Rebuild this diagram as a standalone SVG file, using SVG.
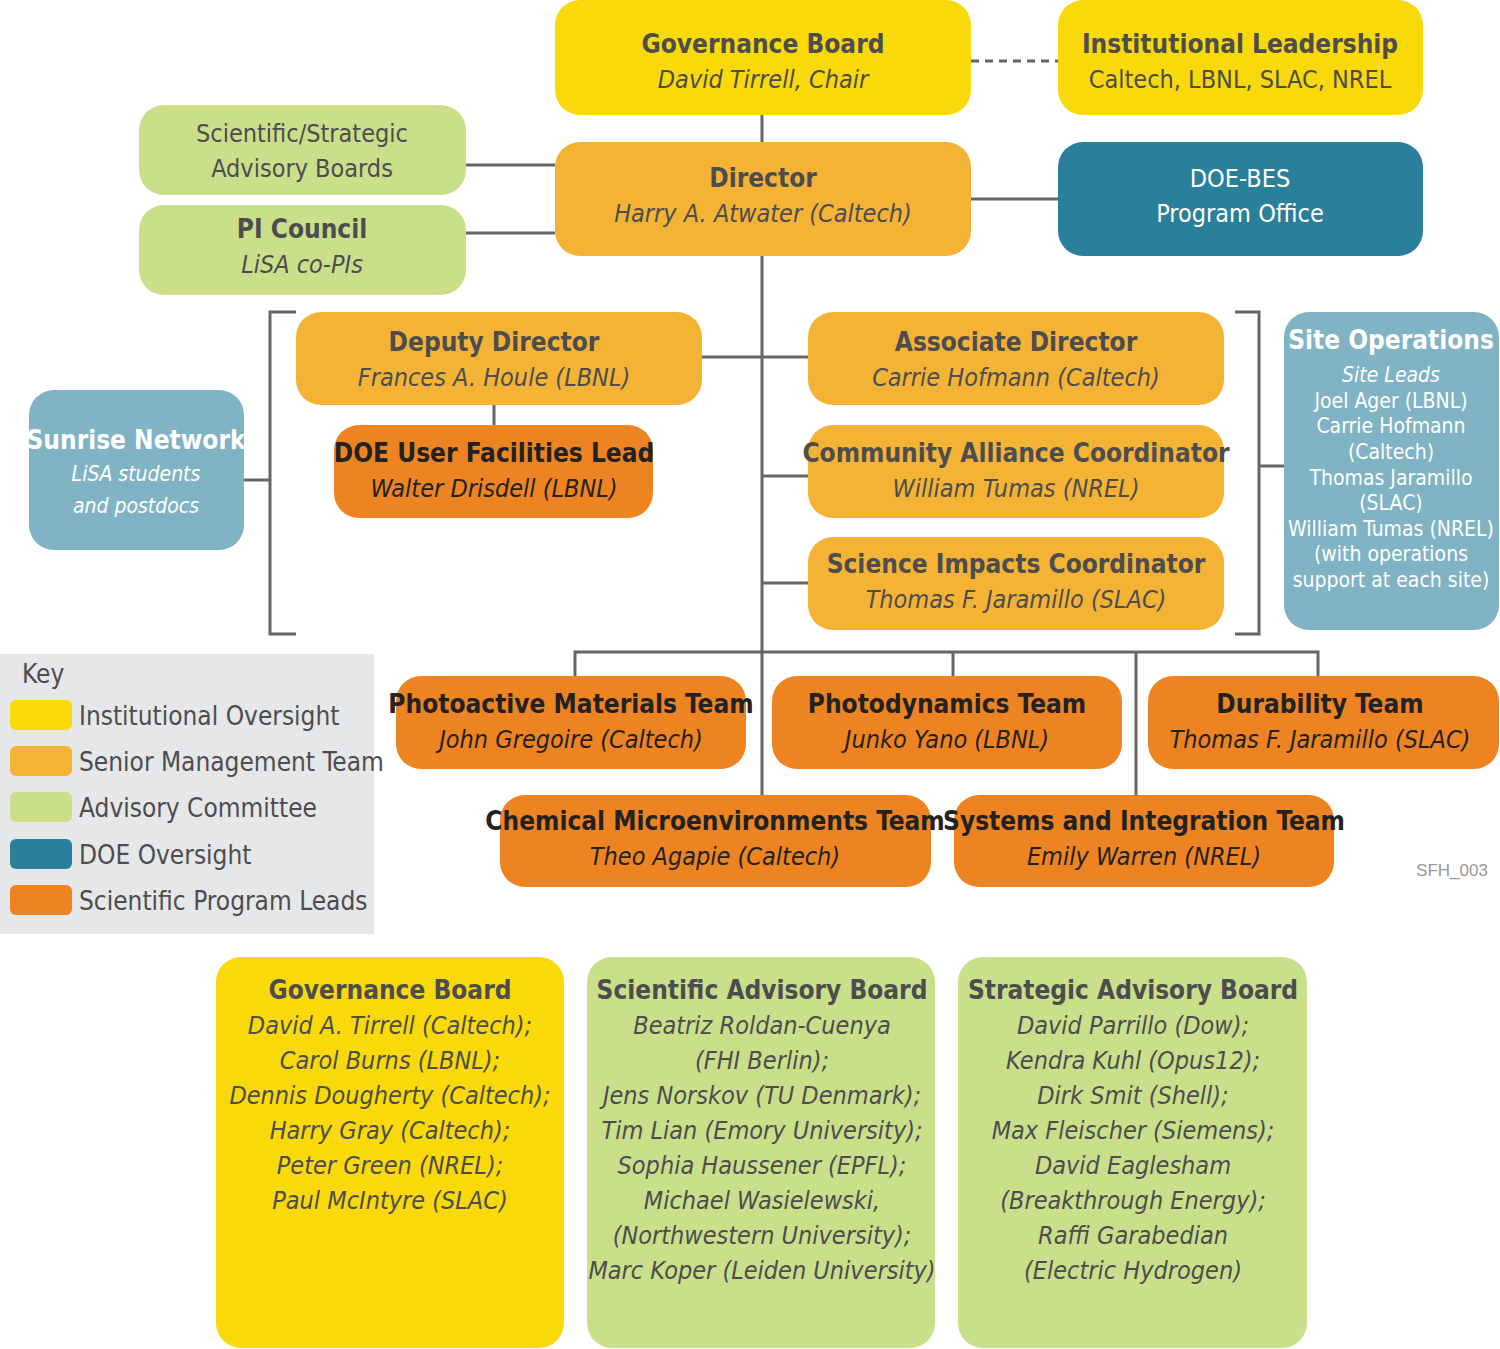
<svg xmlns="http://www.w3.org/2000/svg" width="1500" height="1349" viewBox="0 0 1500 1349">
<style>
text{font-family:"DejaVu Sans Condensed","Liberation Sans Narrow","Liberation Sans",sans-serif;fill:#4d4d4f;text-anchor:middle;font-size:25px}
.b{font-weight:bold;font-size:26px}
.i{font-style:italic}
.w{fill:#fff}
.s{font-size:21px}
.yl{fill:#f9d90a}.or{fill:#f5b335}.gr{fill:#c9df8a}.tl{fill:#2a7f9a}.do{fill:#ee8322}.lb{fill:#80b3c4}
.ln{stroke:#666;stroke-width:3;fill:none}
.k{text-anchor:start;font-size:26px}
</style>
<g id="connectors" class="ln">
<path d="M971,61H1058" stroke-dasharray="8,6"/>
<path d="M466,165H555M466,233H555M971,199H1058M762,115V142M762,256V795M702,357H808M494,405V425M762,476H808M762,583H808"/>
<path d="M296,312H270V634H296M244,480H270M1235,312H1259V634H1235M1259,466H1284"/>
<path d="M575,676V652H1318V676M953,652V676M1136,652V795"/>
</g>
<g id="gov"><rect class="yl" x="555" y="0" width="416" height="115" rx="25"/><text class="b" x="763" y="53">Governance Board</text><text class="i" x="763" y="88">David Tirrell, Chair</text></g>
<g id="inst"><rect class="yl" x="1058" y="0" width="365" height="115" rx="25"/><text class="b" x="1240" y="53">Institutional Leadership</text><text x="1240" y="88">Caltech, LBNL, SLAC, NREL</text></g>
<g id="ssab"><rect class="gr" x="139" y="105" width="327" height="90" rx="25"/><text x="302" y="142">Scientific/Strategic</text><text x="302" y="177">Advisory Boards</text></g>
<g id="pic"><rect class="gr" x="139" y="205" width="327" height="90" rx="25"/><text class="b" x="302" y="238">PI Council</text><text class="i" x="302" y="273">LiSA co-PIs</text></g>
<g id="dir"><rect class="or" x="555" y="142" width="416" height="114" rx="25"/><text class="b" x="763" y="187">Director</text><text class="i" x="763" y="222">Harry A. Atwater (Caltech)</text></g>
<g id="doe"><rect class="tl" x="1058" y="142" width="365" height="114" rx="25"/><text class="w" x="1240" y="187">DOE-BES</text><text class="w" x="1240" y="222">Program Office</text></g>
<g id="dep"><rect class="or" x="296" y="312" width="406" height="93" rx="25"/><text class="b" x="494" y="351">Deputy Director</text><text class="i" x="494" y="386">Frances A. Houle (LBNL)</text></g>
<g id="ufl"><rect class="do" x="334" y="425" width="319" height="93" rx="25"/><text class="b" x="494" y="462" fill="#222" style="fill:#222">DOE User Facilities Lead</text><text class="i" x="494" y="497" style="fill:#222">Walter Drisdell (LBNL)</text></g>
<g id="assoc"><rect class="or" x="808" y="312" width="416" height="93" rx="25"/><text class="b" x="1016" y="351">Associate Director</text><text class="i" x="1016" y="386">Carrie Hofmann (Caltech)</text></g>
<g id="cac"><rect class="or" x="808" y="425" width="416" height="93" rx="25"/><text class="b" x="1016" y="462">Community Alliance Coordinator</text><text class="i" x="1016" y="497">William Tumas (NREL)</text></g>
<g id="sic"><rect class="or" x="808" y="537" width="416" height="93" rx="25"/><text class="b" x="1016" y="573">Science Impacts Coordinator</text><text class="i" x="1016" y="608">Thomas F. Jaramillo (SLAC)</text></g>
<g id="sun"><rect class="lb" x="29" y="390" width="215" height="160" rx="25"/><text class="b w" x="136" y="449">Sunrise Network</text><text class="i w s" x="136" y="481">LiSA students</text><text class="i w s" x="136" y="513">and postdocs</text></g>
<g id="site"><rect class="lb" x="1284" y="312" width="215" height="318" rx="25"/><text class="b w" x="1391" y="349">Site Operations</text>
<text class="i w s" x="1391" y="382">Site Leads</text><text class="w s" x="1391" y="408">Joel Ager (LBNL)</text><text class="w s" x="1391" y="433">Carrie Hofmann</text><text class="w s" x="1391" y="459">(Caltech)</text><text class="w s" x="1391" y="485">Thomas Jaramillo</text><text class="w s" x="1391" y="510">(SLAC)</text><text class="w s" x="1391" y="536">William Tumas (NREL)</text><text class="w s" x="1391" y="561">(with operations</text><text class="w s" x="1391" y="587">support at each site)</text></g>
<g id="pam"><rect class="do" x="396" y="676" width="350" height="93" rx="25"/><text class="b" x="571" y="713" style="fill:#222">Photoactive Materials Team</text><text class="i" x="571" y="748" style="fill:#222">John Gregoire (Caltech)</text></g>
<g id="pdt"><rect class="do" x="772" y="676" width="350" height="93" rx="25"/><text class="b" x="947" y="713" style="fill:#222">Photodynamics Team</text><text class="i" x="947" y="748" style="fill:#222">Junko Yano (LBNL)</text></g>
<g id="dur"><rect class="do" x="1148" y="676" width="351" height="93" rx="25"/><text class="b" x="1320" y="713" style="fill:#222">Durability Team</text><text class="i" x="1320" y="748" style="fill:#222">Thomas F. Jaramillo (SLAC)</text></g>
<g id="cmt"><rect class="do" x="500" y="795" width="431" height="92" rx="25"/><text class="b" x="715" y="830" style="fill:#222">Chemical Microenvironments Team</text><text class="i" x="715" y="865" style="fill:#222">Theo Agapie (Caltech)</text></g>
<g id="sit"><rect class="do" x="954" y="795" width="380" height="92" rx="25"/><text class="b" x="1144" y="830" style="fill:#222">Systems and Integration Team</text><text class="i" x="1144" y="865" style="fill:#222">Emily Warren (NREL)</text></g>
<text x="1452" y="876" style="font-family:'Liberation Sans',sans-serif;font-size:17px;fill:#999">SFH_003</text>
<g id="key"><rect x="0" y="654" width="374" height="280" fill="#e6e7e8"/><text class="k" x="22" y="683">Key</text>
<rect class="yl" x="10" y="700" width="62" height="30" rx="6"/><text class="k" x="79" y="725">Institutional Oversight</text>
<rect class="or" x="10" y="746" width="62" height="30" rx="6"/><text class="k" x="79" y="771">Senior Management Team</text>
<rect class="gr" x="10" y="792" width="62" height="30" rx="6"/><text class="k" x="79" y="817">Advisory Committee</text>
<rect class="tl" x="10" y="839" width="62" height="30" rx="6"/><text class="k" x="79" y="864">DOE Oversight</text>
<rect class="do" x="10" y="885" width="62" height="30" rx="6"/><text class="k" x="79" y="910">Scientific Program Leads</text></g>
<g id="govlist"><rect class="yl" x="216" y="957" width="348" height="391" rx="25"/><text class="b" x="390" y="999">Governance Board</text>
<text class="i" x="390" y="1034">David A. Tirrell (Caltech);</text><text class="i" x="390" y="1069">Carol Burns (LBNL);</text><text class="i" x="390" y="1104">Dennis Dougherty (Caltech);</text><text class="i" x="390" y="1139">Harry Gray (Caltech);</text><text class="i" x="390" y="1174">Peter Green (NREL);</text><text class="i" x="390" y="1209">Paul McIntyre (SLAC)</text></g>
<g id="sablist"><rect class="gr" x="587" y="957" width="348" height="391" rx="25"/><text class="b" x="762" y="999">Scientific Advisory Board</text>
<text class="i" x="762" y="1034">Beatriz Roldan-Cuenya</text><text class="i" x="762" y="1069">(FHI Berlin);</text><text class="i" x="762" y="1104">Jens Norskov (TU Denmark);</text><text class="i" x="762" y="1139">Tim Lian (Emory University);</text><text class="i" x="762" y="1174">Sophia Haussener (EPFL);</text><text class="i" x="762" y="1209">Michael Wasielewski,</text><text class="i" x="762" y="1244">(Northwestern University);</text><text class="i" x="762" y="1279">Marc Koper (Leiden University)</text></g>
<g id="stablist"><rect class="gr" x="958" y="957" width="349" height="391" rx="25"/><text class="b" x="1133" y="999">Strategic Advisory Board</text>
<text class="i" x="1133" y="1034">David Parrillo (Dow);</text><text class="i" x="1133" y="1069">Kendra Kuhl (Opus12);</text><text class="i" x="1133" y="1104">Dirk Smit (Shell);</text><text class="i" x="1133" y="1139">Max Fleischer (Siemens);</text><text class="i" x="1133" y="1174">David Eaglesham</text><text class="i" x="1133" y="1209">(Breakthrough Energy);</text><text class="i" x="1133" y="1244">Raffi Garabedian</text><text class="i" x="1133" y="1279">(Electric Hydrogen)</text></g>
</svg>
